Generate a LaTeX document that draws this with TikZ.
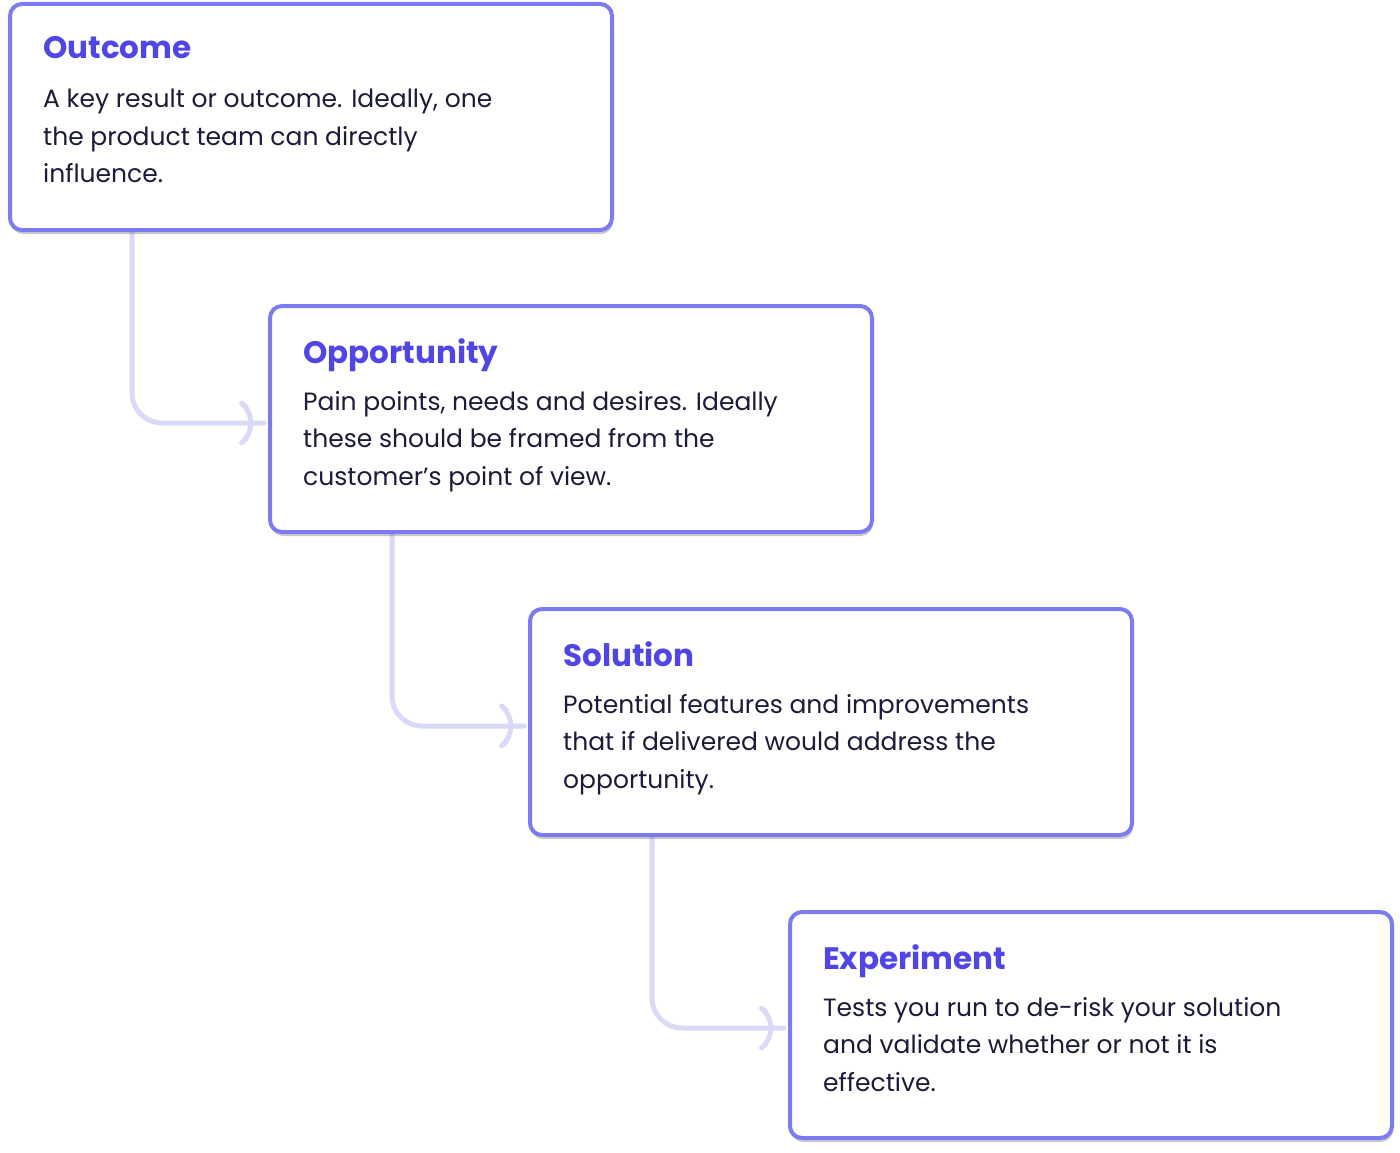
\documentclass[tikz,border=0pt]{standalone}
\usepackage{fontspec}
\setmainfont{Poppins}
\usetikzlibrary{arrows.meta, positioning, shadows}

\definecolor{boxline}{HTML}{7B7BF2}
\definecolor{headcol}{HTML}{4F46E5}
\definecolor{bodycol}{HTML}{1B1B3A}
\definecolor{linkcol}{HTML}{D9D9FA}

\tikzset{
  card/.style={draw=boxline, line width=4pt, rounded corners=12pt, fill=white,
    minimum width=602pt, minimum height=226pt, anchor=north west,
    drop shadow={shadow xshift=1pt, shadow yshift=-4pt, opacity=0.35, fill=black!60}},
  head/.style={anchor=north west, inner sep=0pt, text=headcol, font=\bfseries\fontsize{31}{36}\selectfont},
  body/.style={anchor=north west, inner sep=0pt, text=bodycol, align=left,
    font=\fontsize{25}{37.5}\selectfont},
  link/.style={draw=linkcol, line width=4.5pt, rounded corners=30pt, line cap=round, line join=round},
  linkshade/.style={draw=black!35, opacity=0.3, line width=5pt, rounded corners=30pt,
    line cap=round, line join=round, shift={(1pt,-4pt)}}
}

\begin{document}
\begin{tikzpicture}[x=1pt,y=-1pt]
  \useasboundingbox (0,0) rectangle (1400,1153);

  % connectors first, boxes on top
  \coordinate (c1) at (132,232);  \coordinate (t1) at (264,423);
  \coordinate (c2) at (392,534);  \coordinate (t2) at (524,726);
  \coordinate (c3) at (652,837);  \coordinate (t3) at (784,1028);
  \foreach \c/\t in {c1/t1, c2/t2, c3/t3} {
    \draw[linkshade] (\c) |- (\t) ++(-18,-16) -- (\t) -- ++(-18,16);
    \draw[link] (\c) |- (\t);
    \draw[link] ([shift={(-18,-16)}]\t) -- (\t) -- ([shift={(-18,16)}]\t);
  }

  \node (outcome) [card] at (8,2) {};
  \node (opp) [card] at (268,304) {};
  \node (sol) [card] at (528,607) {};
  \node (exp) [card] at (788,910) {};

  \node (outcomeh) [head] at ([shift={(35,34)}]outcome.north west) {Outcome};
  \node (outcomeb) [body] at ([shift={(35,87)}]outcome.north west)
    {A key result or outcome. Ideally, one\\the product team can directly\\influence.};

  \node (opph) [head] at ([shift={(35,34)}]opp.north west) {Opportunity};
  \node (oppb) [body] at ([shift={(35,87)}]opp.north west)
    {Pain points, needs and desires. Ideally\\these should be framed from the\\customer’s point of view.};

  \node (solh) [head] at ([shift={(35,34)}]sol.north west) {Solution};
  \node (solb) [body] at ([shift={(35,87)}]sol.north west)
    {Potential features and improvements\\that if delivered would address the\\opportunity.};

  \node (exph) [head] at ([shift={(35,34)}]exp.north west) {Experiment};
  \node (expb) [body] at ([shift={(35,87)}]exp.north west)
    {Tests you run to de-risk your solution\\and validate whether or not it is\\effective.};
\end{tikzpicture}
\end{document}
